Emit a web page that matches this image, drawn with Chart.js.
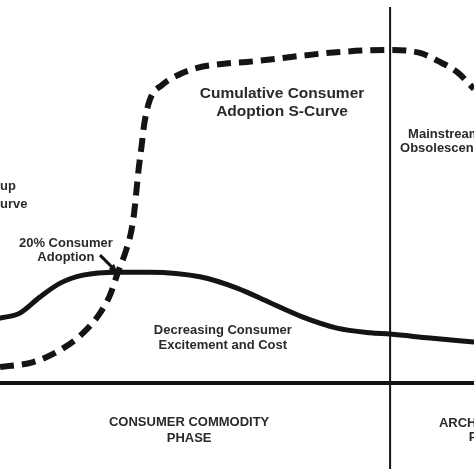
<!DOCTYPE html>
<html>
<head>
<meta charset="utf-8">
<script src="https://cdn.jsdelivr.net/npm/chart.js@4.4.1/dist/chart.umd.min.js"></script>
<style>
  html, body { margin: 0; padding: 0; background: #fff; }
  #wrap { width: 474px; height: 474px; }
</style>
</head>
<body>
<div id="wrap"><canvas id="myChart" width="474" height="474"></canvas></div>
<script>
"use strict";

// time runs 0..100 across the view, level 0 sits on the horizontal axis
const adoptionTime = [0, 7, 12.7, 17.5, 21.1, 23.2, 24.9, 26.4, 27.6, 28.3, 28.8, 29.3, 29.9, 30.4, 31.6, 34.2, 37.6, 41.6, 46.8, 52.1, 71.7, 82.3, 88.6, 92.8, 96.4, 100];
const adoptionLevel = [4.8, 6.3, 9.9, 15.0, 21.0, 26.4, 33.3, 39.0, 45.0, 51.1, 58.0, 64.9, 71.5, 77.5, 85.0, 89.5, 92.5, 94.6, 95.8, 96.4, 99.4, 100, 99.1, 96.4, 93.4, 88.3];

const excitementTime = [0, 4.2, 8.4, 12.7, 17.5, 24.7, 31.6, 42.2, 50.0, 57.0, 63.9, 71.1, 78.1, 82.3, 90.7, 100];
const excitementLevel = [19.5, 21.0, 25.8, 30.0, 32.4, 33.3, 33.3, 31.9, 28.5, 24.1, 19.8, 16.5, 15.1, 14.7, 13.5, 12.3];

const phaseBoundary = 82.3;
const axisRange = [0, 100];
const boundaryRange = [112.9, -25.8];

const toPoints = (xs, ys) => xs.map((x, i) => ({ x: x, y: ys[i] }));

const ink = "#141414";
const textInk = "#2a2a2a";
const fontFamily = "'Liberation Sans', Arial, Helvetica, sans-serif";

// text notes, in chart units
const notes = [
  { lines: ["up", "urve"], x: 0, y: 58.9, gap: 5.4, align: "left", size: 13 },
  { lines: ["Cumulative Consumer", "Adoption S-Curve"], x: 59.5, y: 86.8, gap: 5.4, align: "center", size: 15.5 },
  { lines: ["Mainstream", "Obsolescence"], x: 86.1, y: 74.5, gap: 4.2, align: "left", size: 13, shifts: [0, -1.7] },
  { lines: ["20% Consumer", "Adoption"], x: 13.9, y: 42.0, gap: 4.2, align: "center", size: 13 },
  { lines: ["Decreasing Consumer", "Excitement and Cost"], x: 47.0, y: 15.9, gap: 4.5, align: "center", size: 13 },
  { lines: ["CONSUMER COMMODITY", "PHASE"], x: 39.9, y: -11.7, gap: 4.8, align: "center", size: 13 },
  { lines: ["ARCHIVAL", "PHASE"], x: 92.6, y: -12.0, gap: 4.2, align: "left", size: 13, shifts: [0, 6.3] },
];

const arrow = { from: [21.1, 38.4], to: [24.7, 33.3] };

const notesPlugin = {
  id: "notes",
  afterDatasetsDraw(chart) {
    const { ctx, scales } = chart;
    const sx = scales.x, sy = scales.y;
    ctx.save();
    ctx.fillStyle = textInk;
    ctx.textBaseline = "middle";
    notes.forEach((n) => {
      ctx.font = "bold " + n.size + "px " + fontFamily;
      ctx.textAlign = n.align;
      n.lines.forEach((line, i) => {
        const dx = n.shifts ? n.shifts[i] : 0;
        ctx.fillText(line, sx.getPixelForValue(n.x + dx), sy.getPixelForValue(n.y - i * n.gap));
      });
    });

    // little arrow to the crossing point
    const x1 = sx.getPixelForValue(arrow.from[0]), y1 = sy.getPixelForValue(arrow.from[1]);
    const x2 = sx.getPixelForValue(arrow.to[0]), y2 = sy.getPixelForValue(arrow.to[1]);
    const ang = Math.atan2(y2 - y1, x2 - x1);
    const head = 9;
    ctx.strokeStyle = ink;
    ctx.fillStyle = ink;
    ctx.lineWidth = 3;
    ctx.beginPath();
    ctx.moveTo(x1, y1);
    ctx.lineTo(x2 - Math.cos(ang) * head * 0.8, y2 - Math.sin(ang) * head * 0.8);
    ctx.stroke();
    ctx.beginPath();
    ctx.moveTo(x2, y2);
    ctx.lineTo(x2 - head * Math.cos(ang - 0.45), y2 - head * Math.sin(ang - 0.45));
    ctx.lineTo(x2 - head * Math.cos(ang + 0.45), y2 - head * Math.sin(ang + 0.45));
    ctx.closePath();
    ctx.fill();
    ctx.restore();
  },
};

const ctx = document.getElementById("myChart").getContext("2d");
const myChart = new Chart(ctx, {
  type: "scatter",
  data: {
    datasets: [
      {
        label: "Horizontal axis",
        data: toPoints(axisRange, [0, 0]),
        showLine: true,
        borderColor: ink,
        borderWidth: 4,
        pointRadius: 0,
        tension: 0,
      },
      {
        label: "Phase boundary",
        data: toPoints([phaseBoundary, phaseBoundary], boundaryRange),
        showLine: true,
        borderColor: ink,
        borderWidth: 2,
        pointRadius: 0,
        tension: 0,
      },
      {
        label: "Cumulative Consumer Adoption S-Curve",
        data: toPoints(adoptionTime, adoptionLevel),
        showLine: true,
        borderColor: ink,
        borderWidth: 6,
        borderDash: [14, 8],
        borderCapStyle: "butt",
        pointRadius: 0,
        cubicInterpolationMode: "monotone",
      },
      {
        label: "Consumer Excitement and Cost",
        data: toPoints(excitementTime, excitementLevel),
        showLine: true,
        borderColor: ink,
        borderWidth: 5,
        borderCapStyle: "round",
        pointRadius: 0,
        cubicInterpolationMode: "monotone",
      },
    ],
  },
  options: {
    responsive: false,
    animation: false,
    devicePixelRatio: 1,
    layout: { padding: 0 },
    scales: {
      x: { type: "linear", min: 0, max: 100, display: false },
      y: { type: "linear", min: -27.3, max: 115.0, display: false },
    },
    plugins: {
      legend: { display: false },
      tooltip: { enabled: false },
    },
  },
  plugins: [notesPlugin],
});
</script>
</body>
</html>
